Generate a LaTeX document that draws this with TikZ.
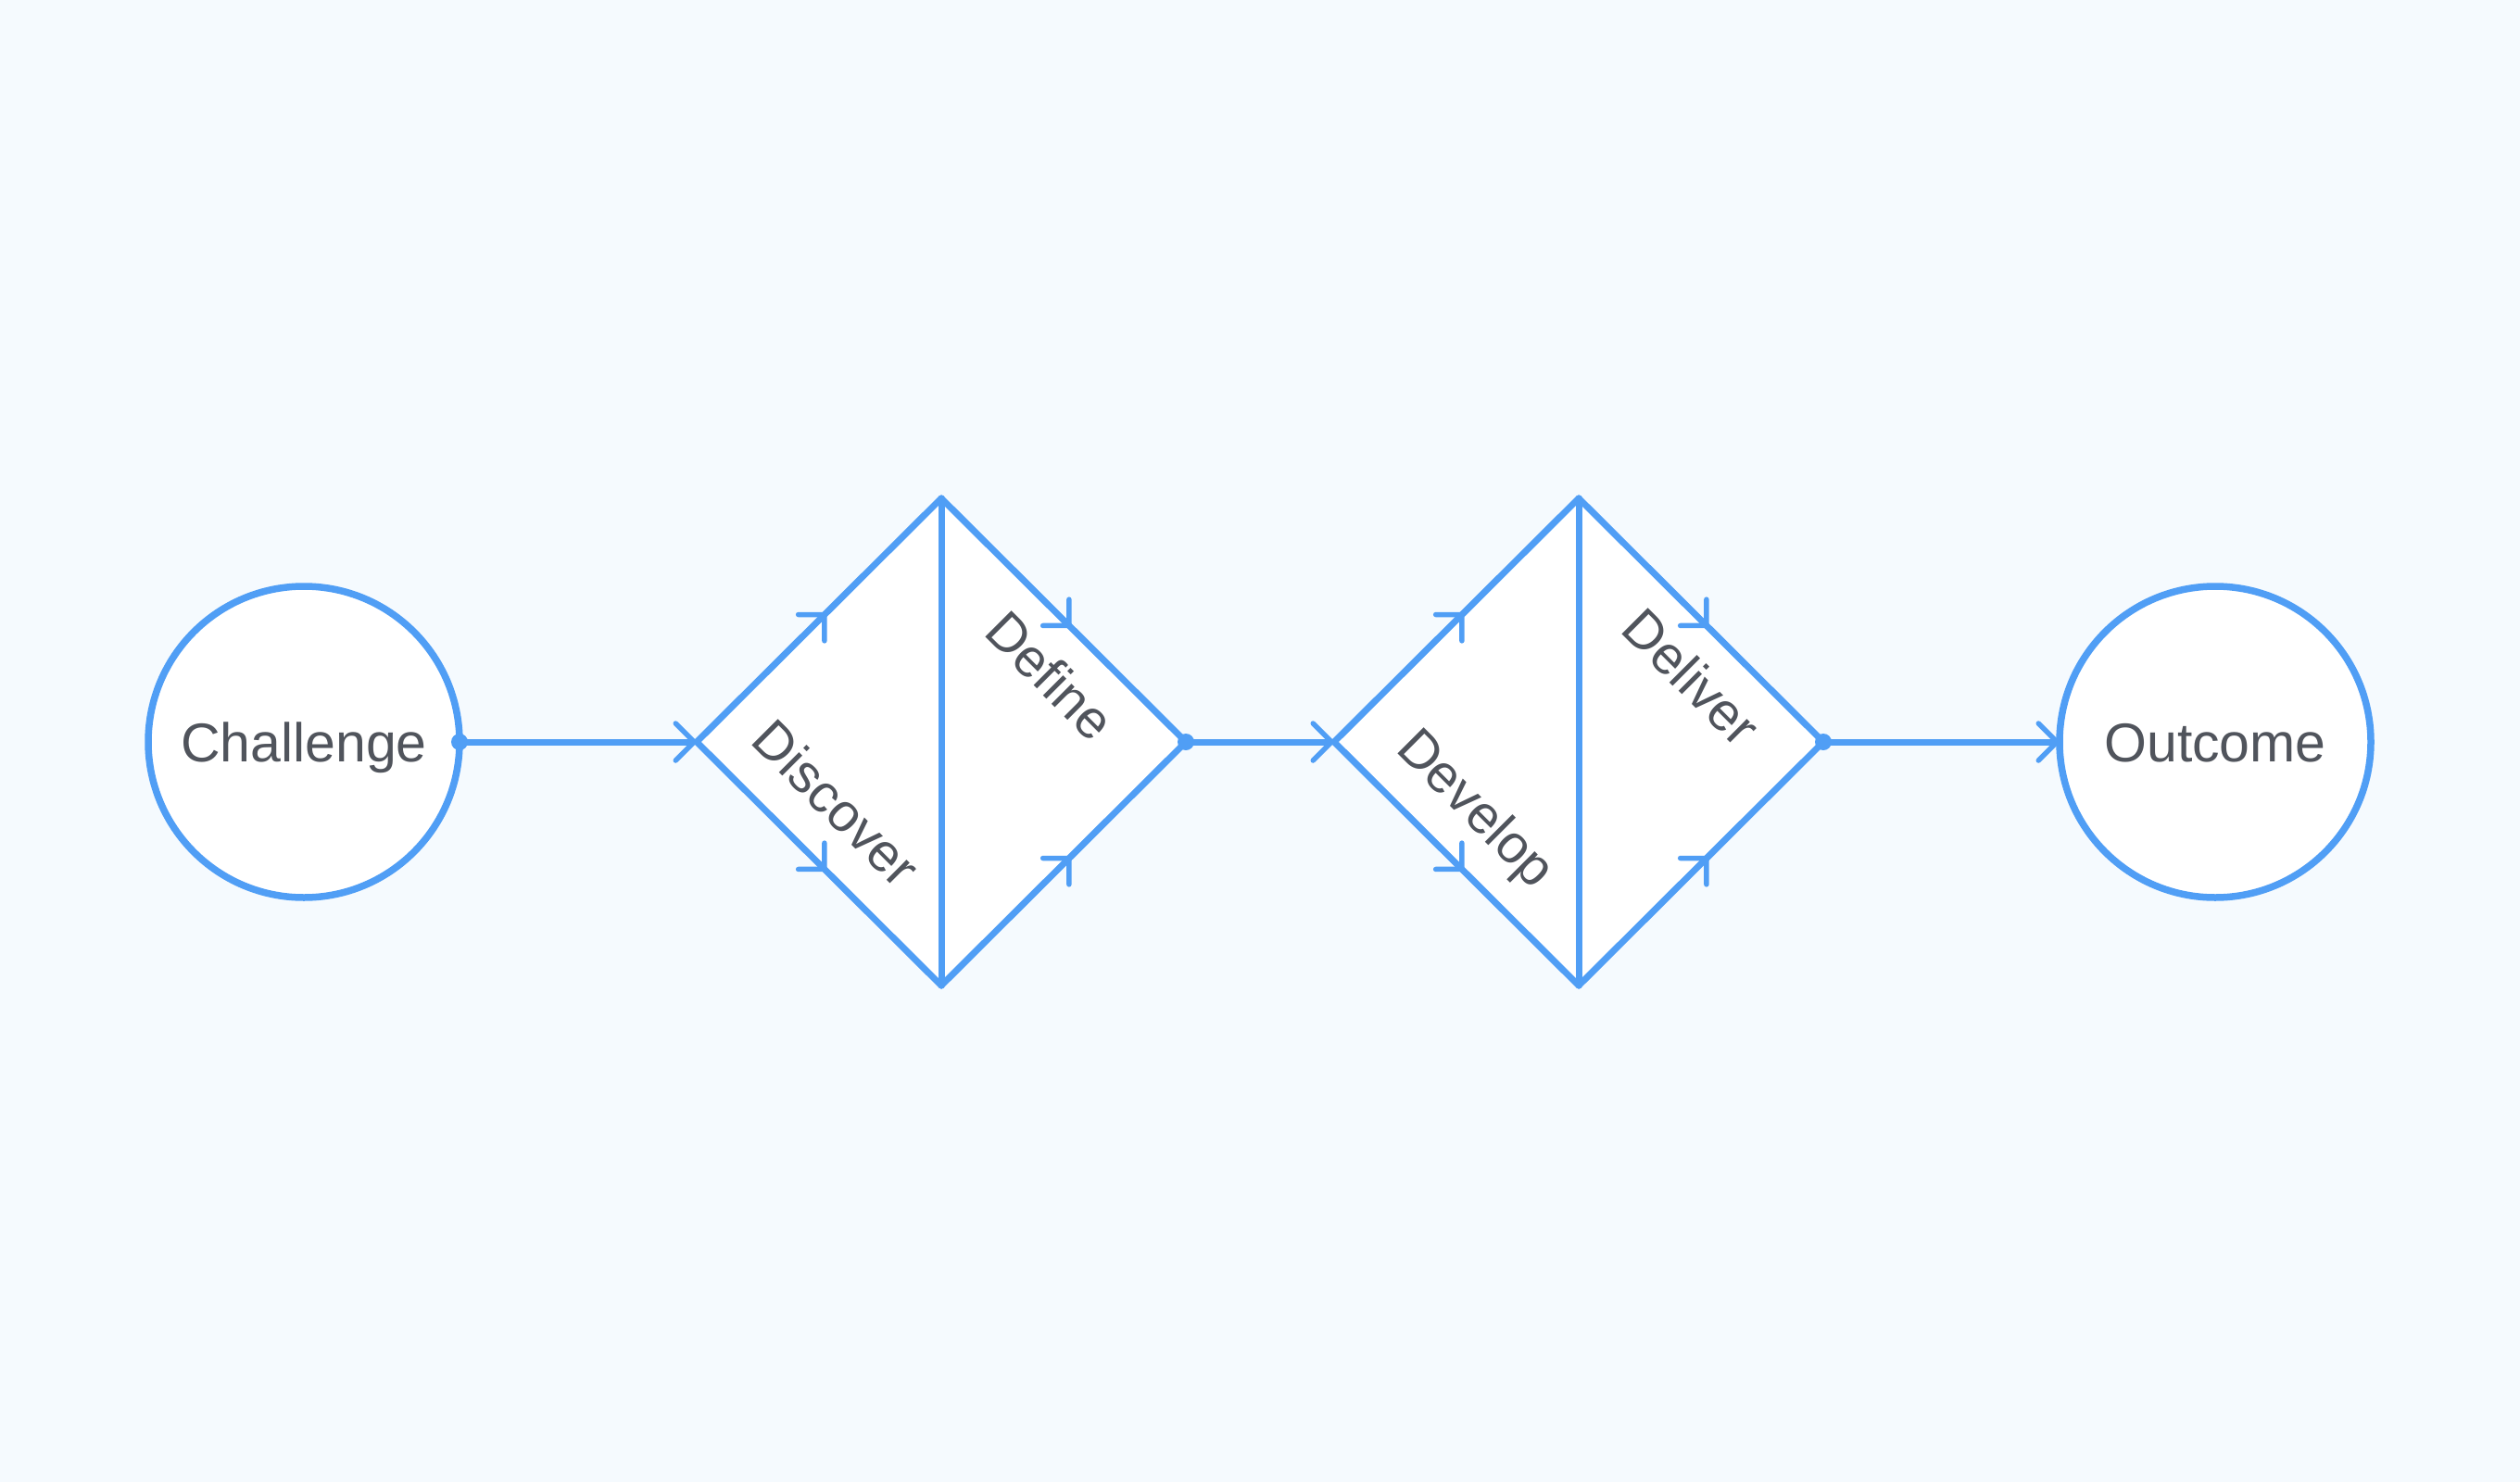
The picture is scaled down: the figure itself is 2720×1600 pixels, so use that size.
\documentclass[tikz,border=0pt]{standalone}
\usepackage{fontspec}
\setmainfont{Liberation Sans}
\usetikzlibrary{arrows.meta,decorations.markings,calc}
\definecolor{bg}{RGB}{245,250,254}
\definecolor{lineblue}{RGB}{80,158,245}
\definecolor{txt}{RGB}{80,84,92}
\tikzset{
  barb/.tip={Straight Barb[length=20pt,width=40pt,line width=5.5pt,round]},
  blueline/.style={draw=lineblue, line width=7pt, line join=round, line cap=round},
  endpoint/.style={circle, draw=lineblue, fill=white, line width=7.5pt, minimum size=336pt, inner sep=0pt, outer sep=0pt, text=txt, font=\fontsize{59}{70}\selectfont, text height=42pt, text depth=0pt},
  conn/.style={blueline, -barb},
  dotmark/.style={fill=lineblue},
  flowedge/.style={blueline, postaction={decorate}, decoration={markings, mark=at position #1 with {\arrow{barb}}}},
  flowedge/.default=0.53,
  phase/.style={text=txt, rotate=-45, inner sep=0pt, font=\fontsize{58}{70}\selectfont},
}
\begin{document}
\begin{tikzpicture}[x=1pt,y=-1pt]
  \useasboundingbox (0,0) rectangle (2720,1600);
  \fill[bg] (0,0) rectangle (2720,1600);

  % circles
  \node[endpoint] (ch) at (328,801) {Challenge};
  \node[endpoint] (out) at (2391,801) {Outcome};

  % diamond vertices
  \coordinate (d1l) at (752,801);
  \coordinate (d1t) at (1016,538);
  \coordinate (d1r) at (1280,801);
  \coordinate (d1b) at (1016,1064);
  \coordinate (d2l) at (1440,801);
  \coordinate (d2t) at (1704,538);
  \coordinate (d2r) at (1968,801);
  \coordinate (d2b) at (1704,1064);

  % diamond fills and outlines
  \fill[white] (d1l) -- (d1t) -- (d1r) -- (d1b) -- cycle;
  \fill[white] (d2l) -- (d2t) -- (d2r) -- (d2b) -- cycle;
  \draw[blueline] (d1t) -- (d1b);
  \draw[blueline] (d2t) -- (d2b);
  \draw[flowedge] (d1l) -- (d1t);
  \draw[flowedge] (d1l) -- (d1b);
  \draw[flowedge] (d1t) -- (d1r);
  \draw[flowedge] (d1b) -- (d1r);
  \draw[flowedge] (d2l) -- (d2t);
  \draw[flowedge] (d2l) -- (d2b);
  \draw[flowedge] (d2t) -- (d2r);
  \draw[flowedge] (d2b) -- (d2r);

  % labels
  \node[phase] (discover) at (903,867) {Discover};
  \node[phase] (define) at (1134,729) {Define};
  \node[phase] (develop) at (1591,875) {Develop};
  \node[phase] (deliver) at (1826,731) {Deliver};

  % connectors
  \draw[conn] (ch.east) -- (d1l);
  \draw[conn] (d1r) -- (d2l);
  \draw[conn] (d2r) -- (out.west);
  \fill[dotmark] (ch.east) circle (9pt);
  \fill[dotmark] (d1r) circle (9pt);
  \fill[dotmark] (d2r) circle (9pt);
\end{tikzpicture}
\end{document}
